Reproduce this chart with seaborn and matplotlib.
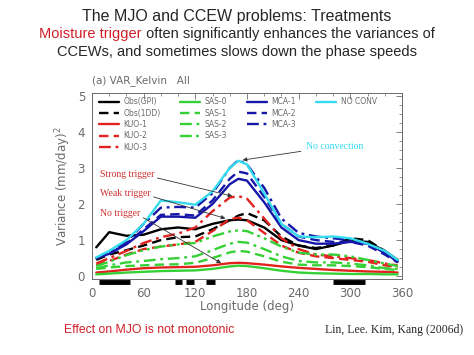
import numpy as np
import pandas as pd
import matplotlib
matplotlib.use("Agg")
import matplotlib.pyplot as plt
import seaborn as sns
from matplotlib.lines import Line2D

# longitude grid (deg)
lon = [5, 20, 40, 60, 80, 100, 120, 140, 160, 170, 180, 200, 220, 240, 260, 280, 300, 320, 340, 355]

obs_gpi = [0.80, 1.22, 1.12, 1.15, 1.30, 1.35, 1.30, 1.45, 1.55, 1.57, 1.55, 1.35, 1.00, 0.85, 0.75, 0.85, 0.98, 0.95, 0.70, 0.45]
obs_1dd = [0.45, 0.60, 0.72, 0.85, 1.00, 1.08, 1.10, 1.30, 1.55, 1.68, 1.75, 1.55, 1.10, 0.85, 0.78, 0.85, 1.05, 1.00, 0.70, 0.42]
kuo_1 = [0.10, 0.13, 0.18, 0.22, 0.24, 0.25, 0.26, 0.30, 0.36, 0.37, 0.36, 0.32, 0.27, 0.23, 0.20, 0.17, 0.15, 0.13, 0.12, 0.10]
kuo_2 = [0.30, 0.42, 0.60, 0.75, 0.82, 0.88, 0.95, 1.25, 1.58, 1.62, 1.55, 1.20, 0.85, 0.65, 0.55, 0.50, 0.45, 0.40, 0.30, 0.25]
kuo_3 = [0.35, 0.50, 0.70, 0.92, 1.08, 1.18, 1.35, 1.80, 2.18, 2.22, 2.15, 1.60, 1.05, 0.75, 0.60, 0.55, 0.50, 0.45, 0.35, 0.30]
sas_0 = [0.05, 0.07, 0.10, 0.12, 0.14, 0.15, 0.16, 0.20, 0.27, 0.29, 0.28, 0.22, 0.15, 0.10, 0.08, 0.07, 0.06, 0.06, 0.05, 0.05]
sas_1 = [0.20, 0.24, 0.28, 0.30, 0.32, 0.33, 0.37, 0.50, 0.66, 0.70, 0.68, 0.55, 0.40, 0.32, 0.30, 0.30, 0.28, 0.25, 0.20, 0.17]
sas_2 = [0.22, 0.30, 0.38, 0.42, 0.47, 0.50, 0.55, 0.72, 0.90, 0.95, 0.93, 0.75, 0.55, 0.42, 0.38, 0.38, 0.35, 0.30, 0.22, 0.20]
sas_3 = [0.28, 0.40, 0.58, 0.72, 0.82, 0.88, 0.92, 1.10, 1.24, 1.27, 1.25, 1.05, 0.82, 0.65, 0.60, 0.60, 0.55, 0.45, 0.35, 0.28]
mca_1 = [0.50, 0.62, 0.88, 1.25, 1.65, 1.65, 1.62, 2.00, 2.55, 2.70, 2.65, 2.05, 1.35, 1.00, 0.90, 0.90, 0.95, 0.90, 0.65, 0.40]
mca_2 = [0.50, 0.62, 0.90, 1.30, 1.70, 1.72, 1.68, 2.10, 2.70, 2.90, 2.85, 2.20, 1.45, 1.10, 1.00, 0.95, 0.95, 0.85, 0.60, 0.38]
mca_3 = [0.50, 0.65, 0.95, 1.45, 1.90, 1.92, 1.90, 2.30, 3.00, 3.22, 3.10, 2.45, 1.60, 1.20, 1.10, 1.05, 1.00, 0.90, 0.65, 0.40]
no_conv = [0.52, 0.70, 1.00, 1.45, 2.10, 2.05, 1.98, 2.35, 3.00, 3.20, 3.10, 2.30, 1.45, 1.10, 1.08, 1.10, 1.05, 0.90, 0.70, 0.45]

models = ["Obs(GPI)", "Obs(1DD)", "KUO-1", "KUO-2", "KUO-3",
          "SAS-0", "SAS-1", "SAS-2", "SAS-3",
          "MCA-1", "MCA-2", "MCA-3", "NO CONV"]
series = [obs_gpi, obs_1dd, kuo_1, kuo_2, kuo_3, sas_0, sas_1, sas_2, sas_3,
          mca_1, mca_2, mca_3, no_conv]

# black bars along the bottom (start, end longitude)
bar_start = [8, 97, 109, 133, 280]
bar_end = [44, 104, 118, 143, 317]

black, red, green, blue, cyan = "black", "#e0231f", "#35d035", "#1616a8", "#35dcee"
solid = ""
dash = (4, 2.2)
dashdot = (5, 2, 1.2, 2)
dashdotdot = (5, 1.8, 1.2, 1.8, 1.2, 1.8)
colors = {"Obs(GPI)": black, "Obs(1DD)": black, "KUO-1": red, "KUO-2": red, "KUO-3": red,
          "SAS-0": green, "SAS-1": green, "SAS-2": green, "SAS-3": green,
          "MCA-1": blue, "MCA-2": blue, "MCA-3": blue, "NO CONV": cyan}
dashes = {"Obs(GPI)": solid, "Obs(1DD)": dash, "KUO-1": solid, "KUO-2": dash, "KUO-3": dashdot,
          "SAS-0": solid, "SAS-1": dash, "SAS-2": dashdot, "SAS-3": dashdotdot,
          "MCA-1": solid, "MCA-2": dash, "MCA-3": dashdot, "NO CONV": solid}

df = pd.concat([pd.DataFrame({"lon": lon, "var": v, "model": m}) for m, v in zip(models, series)])

sns.set_style("white")
plt.rcParams["font.family"] = ["DejaVu Sans"]
gray = "#6a6a6a"

fig = plt.figure(figsize=(4.74, 3.55), dpi=100)
ax = fig.add_axes([0.194, 0.214, 0.654, 0.524])

sns.lineplot(data=df, x="lon", y="var", hue="model", style="model", hue_order=models,
             style_order=models, palette=colors, dashes=dashes, linewidth=1.7,
             legend=False, ax=ax)

for s, e in zip(bar_start, bar_end):
    ax.plot([s, e], [-0.165, -0.165], color="black", lw=3.5, solid_capstyle="butt", clip_on=False)

ax.set_xlim(0, 360)
ax.set_ylim(-0.08, 5.08)
ax.set_xticks([0, 60, 120, 180, 240, 300, 360])
ax.set_yticks([0, 1, 2, 3, 4, 5])
ax.set_xticks(np.arange(0, 361, 20), minor=True)
ax.set_yticks(np.arange(0, 5.01, 0.25), minor=True)
ax.tick_params(which="both", direction="in", top=True, right=True, colors=gray,
               labelsize=8.5, labelcolor=gray)
ax.tick_params(axis="x", which="major", pad=6)
ax.tick_params(axis="y", which="major", pad=5)
ax.tick_params(which="major", length=4, width=0.6)
ax.tick_params(which="minor", length=2, width=0.5)
for sp in ax.spines.values():
    sp.set_color(gray)
    sp.set_linewidth(0.7)
ax.set_xlabel("Longitude (deg)", color=gray, fontsize=8.5, labelpad=0)
ax.set_ylabel("Variance (mm/day)$^2$", color=gray, fontsize=8.5, labelpad=3)

# legend: 4 columns with 5, 4, 3, 1 entries
blank = Line2D([], [], color="none")
handles, labels = [], []
cols = [models[0:5], models[5:9], models[9:12], models[12:13]]
for col in cols:
    for i in range(5):
        if i < len(col):
            m = col[i]
            ls = "-" if dashes[m] == "" else (0, dashes[m])
            handles.append(Line2D([], [], color=colors[m], lw=1.7, linestyle=ls))
            labels.append(m)
        else:
            handles.append(blank)
            labels.append("")
ax.legend(handles, labels, ncol=4, loc="upper left", bbox_to_anchor=(0.005, 1.005),
          frameon=False, fontsize=5.5, labelcolor=gray, handlelength=2.6,
          handletextpad=0.6, columnspacing=2.6, labelspacing=0.3, borderaxespad=0.3)

# annotations
serif = "Liberation Serif"
ax.annotate("No convection", xy=(175, 3.22), xytext=(248, 3.6), color=cyan, fontsize=7,
            family=serif, va="center",
            arrowprops=dict(arrowstyle="-|>", color="#333333", lw=0.6, mutation_scale=6,
                            shrinkA=1, shrinkB=0))
ax.annotate("Strong trigger", xy=(163, 2.22), xytext=(9, 2.82), color="#d03030", fontsize=7,
            family=serif, va="center",
            arrowprops=dict(arrowstyle="-|>", color="#333333", lw=0.6, mutation_scale=6,
                            shrinkA=0, shrinkB=0, relpos=(1, 0.2)))
ax.annotate("Weak trigger", xy=(155, 1.6), xytext=(9, 2.3), color="#d03030", fontsize=7,
            family=serif, va="center",
            arrowprops=dict(arrowstyle="-|>", color="#333333", lw=0.6, mutation_scale=6,
                            shrinkA=0, shrinkB=0, relpos=(1, 0.2)))
ax.annotate("No trigger", xy=(150, 0.36), xytext=(9, 1.75), color="#d03030", fontsize=7,
            family=serif, va="center",
            arrowprops=dict(arrowstyle="-|>", color="#333333", lw=0.6, mutation_scale=6,
                            shrinkA=0, shrinkB=0, relpos=(1, 0.2)))

ax.text(0, 1.04, "(a) VAR_Kelvin   All", transform=ax.transAxes, color=gray, fontsize=7.5,
        ha="left", va="bottom")

# titles
sans = "Liberation Sans"
fig.text(0.5, 1 - 16 / 355, "The MJO and CCEW problems: Treatments", ha="center", va="center",
         fontsize=11.5, family=sans)
renderer = fig.canvas.get_renderer()
t1 = fig.text(0, 1 - 34 / 355, "Moisture trigger", color="#d0202a", ha="left", va="center",
              fontsize=10.5, family=sans)
t2 = fig.text(0, 1 - 34 / 355, " often significantly enhances the variances of", ha="left",
              va="center", fontsize=10.5, family=sans)
w1 = t1.get_window_extent(renderer).width
w2 = t2.get_window_extent(renderer).width
x0 = (474 - (w1 + w2)) / 2
t1.set_x(x0 / 474)
t2.set_x((x0 + w1) / 474)
fig.text(0.5, 1 - 52 / 355, "CCEWs, and sometimes slows down the phase speeds", ha="center",
         va="center", fontsize=10.5, family=sans)

fig.text(64 / 474, 1 - 330 / 355, "Effect on MJO is not monotonic", color="#d0202a", ha="left",
         va="center", fontsize=8.8, family=sans)
fig.text(463 / 474, 1 - 330 / 355, "Lin, Lee. Kim, Kang (2006d)", ha="right", va="center",
         fontsize=8.5, family=serif)

fig.savefig("out.png", dpi=100)
